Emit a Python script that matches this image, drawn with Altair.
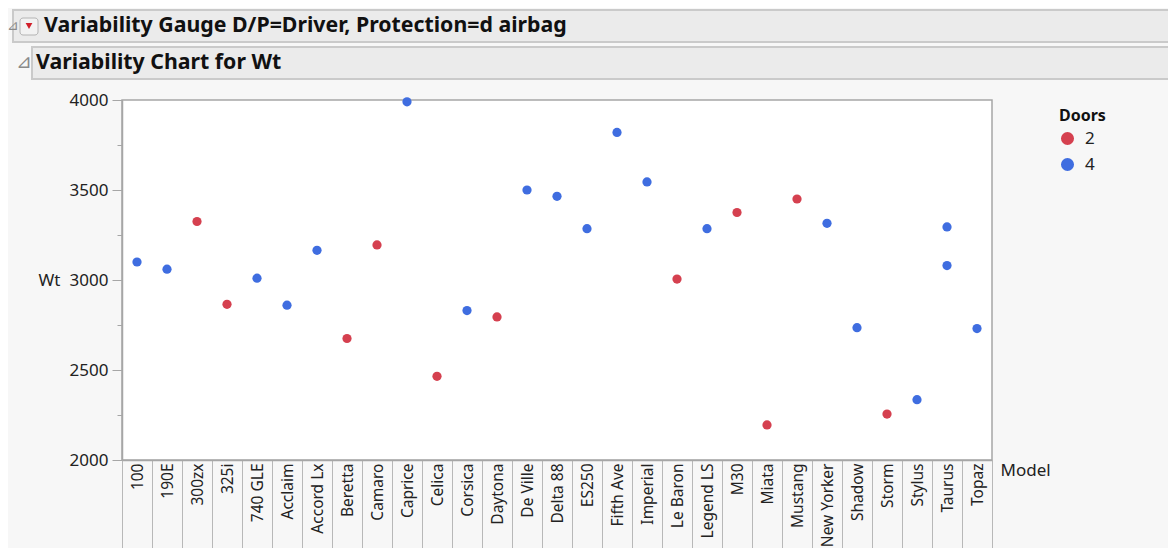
import altair as alt
import pandas as pd

FONT = "Noto Sans"

headers = ["Variability Gauge D/P=Driver, Protection=d airbag", "Variability Chart for Wt"]

categories = ["100", "190E", "300zx", "325i", "740 GLE", "Acclaim", "Accord Lx", "Beretta",
              "Camaro", "Caprice", "Celica", "Corsica", "Daytona", "De Ville", "Delta 88",
              "ES250", "Fifth Ave", "Imperial", "Le Baron", "Legend LS", "M30", "Miata",
              "Mustang", "New Yorker", "Shadow", "Storm", "Stylus", "Taurus", "Topaz"]

models = ["100", "190E", "300zx", "325i", "740 GLE", "Acclaim", "Accord Lx", "Beretta",
          "Camaro", "Caprice", "Celica", "Corsica", "Daytona", "De Ville", "Delta 88",
          "ES250", "Fifth Ave", "Imperial", "Le Baron", "Legend LS", "M30", "Miata",
          "Mustang", "New Yorker", "Shadow", "Storm", "Stylus", "Taurus", "Taurus", "Topaz"]
weights = [3100, 3060, 3325, 2865, 3010, 2860, 3165, 2675,
           3195, 3990, 2465, 2830, 2795, 3500, 3465,
           3285, 3820, 3545, 3005, 3285, 3375, 2195,
           3450, 3315, 2735, 2255, 2335, 3295, 3080, 2730]
doors = ["4", "4", "2", "2", "4", "4", "4", "2",
         "2", "4", "2", "4", "2", "4", "4",
         "4", "4", "4", "2", "4", "2", "2",
         "2", "4", "4", "2", "4", "4", "4", "4"]

door_levels = ["2", "4"]
door_colors = ["#d5404f", "#3f6de0"]
y_ticks = [2000, 2250, 2500, 2750, 3000, 3250, 3500, 3750, 4000]

df = pd.DataFrame({"Model": models, "Wt": weights, "Doors": doors})

one = alt.Data(values=[{"k": 1}])


def box(x1, x2, y1, y2, fill, stroke, sw, cr=0):
    return alt.Chart(one).mark_rect(fill=fill, stroke=stroke, strokeWidth=sw,
                                    cornerRadius=cr).encode(
        x=alt.value(x1), x2=alt.value(x2), y=alt.value(y1), y2=alt.value(y2))


def label(txt, x, y, size, weight="normal", color="#111111", align="left"):
    return alt.Chart(one).mark_text(align=align, baseline="middle", font=FONT,
                                    fontSize=size, fontWeight=weight, color=color).encode(
        x=alt.value(x), y=alt.value(y), text=alt.value(txt))


hdr = [
    box(-109, 1049, -90, -58, "#ebebeb", "#cacaca", 2),
    box(-90, 1047, -53, -21, "#ebebeb", "#cacaca", 2),
    box(-102, -84, -82, -65, "#f2f2f2", "#b4b4b4", 1, 3),
    alt.Chart(one).mark_point(shape="triangle-down", filled=True, color="#d11f2a",
                              size=45, opacity=1).encode(x=alt.value(-93), y=alt.value(-74)),
    label("⊿", -115, -74, 14, color="#8a8a8a"),
    label("⊿", -106, -38, 19, color="#8a8a8a"),
    label(headers[0], -78, -74, 21.3, "bold"),
    label(headers[1], -86, -37, 21.3, "bold"),
]

points = alt.Chart(df).mark_circle(size=85, opacity=1).encode(
    x=alt.X("Model:N", sort=categories,
            scale=alt.Scale(type="band", domain=categories, paddingInner=0, paddingOuter=0),
            axis=alt.Axis(labelAngle=270, labelFont=FONT, labelFontSize=15.5,
                          labelColor="#222222", labelPadding=-97,
                          tickBand="extent", tickSize=100, tickColor="#b8b8b8",
                          tickWidth=1, domainColor="#a6a6a6", domainWidth=1.5,
                          title="Model", titleX=878, titleY=10, titleAlign="left",
                          titleBaseline="middle", titleFont=FONT, titleFontSize=17,
                          titleFontWeight="normal", titleColor="#222222")),
    y=alt.Y("Wt:Q", scale=alt.Scale(domain=[2000, 4000], nice=False, zero=False),
            axis=alt.Axis(values=y_ticks,
                          labelExpr="datum.value % 500 === 0 ? datum.label : ''",
                          format="d",
                          tickSize={"condition": {"test": "datum.value % 500 !== 0", "value": 5},
                                    "value": 10},
                          tickColor="#a6a6a6", domainColor="#a6a6a6", domainWidth=1.5,
                          labelFont=FONT, labelFontSize=17, labelColor="#222222",
                          labelPadding=4, grid=False,
                          title="Wt", titleAngle=0, titleX=-62, titleY=180,
                          titleAlign="right", titleBaseline="middle", titleFont=FONT,
                          titleFontSize=17, titleFontWeight="normal",
                          titleColor="#222222")),
    color=alt.Color("Doors:N", scale=alt.Scale(domain=door_levels, range=door_colors),
                    legend=alt.Legend(orient="none", legendX=937, legendY=8,
                                      title="Doors", titleFont=FONT, titleFontSize=16,
                                      titleFontWeight="bold", titleColor="#111111",
                                      titlePadding=6,
                                      labelFont=FONT, labelFontSize=17, labelColor="#222222",
                                      labelOffset=9, symbolType="circle", symbolSize=170,
                                      symbolStrokeWidth=0, symbolOpacity=1, rowPadding=8)),
)

chart = alt.layer(*hdr, points).properties(
    width=870, height=360,
    autosize=alt.AutoSizeParams(type="none"),
    padding={"left": 114, "top": 92, "right": 176, "bottom": 88},
    background="#f7f7f7",
).configure_view(fill="white", stroke="#a6a6a6", strokeWidth=1.5)

chart.save("out.html", embed_options={"renderer": "svg", "actions": False})
